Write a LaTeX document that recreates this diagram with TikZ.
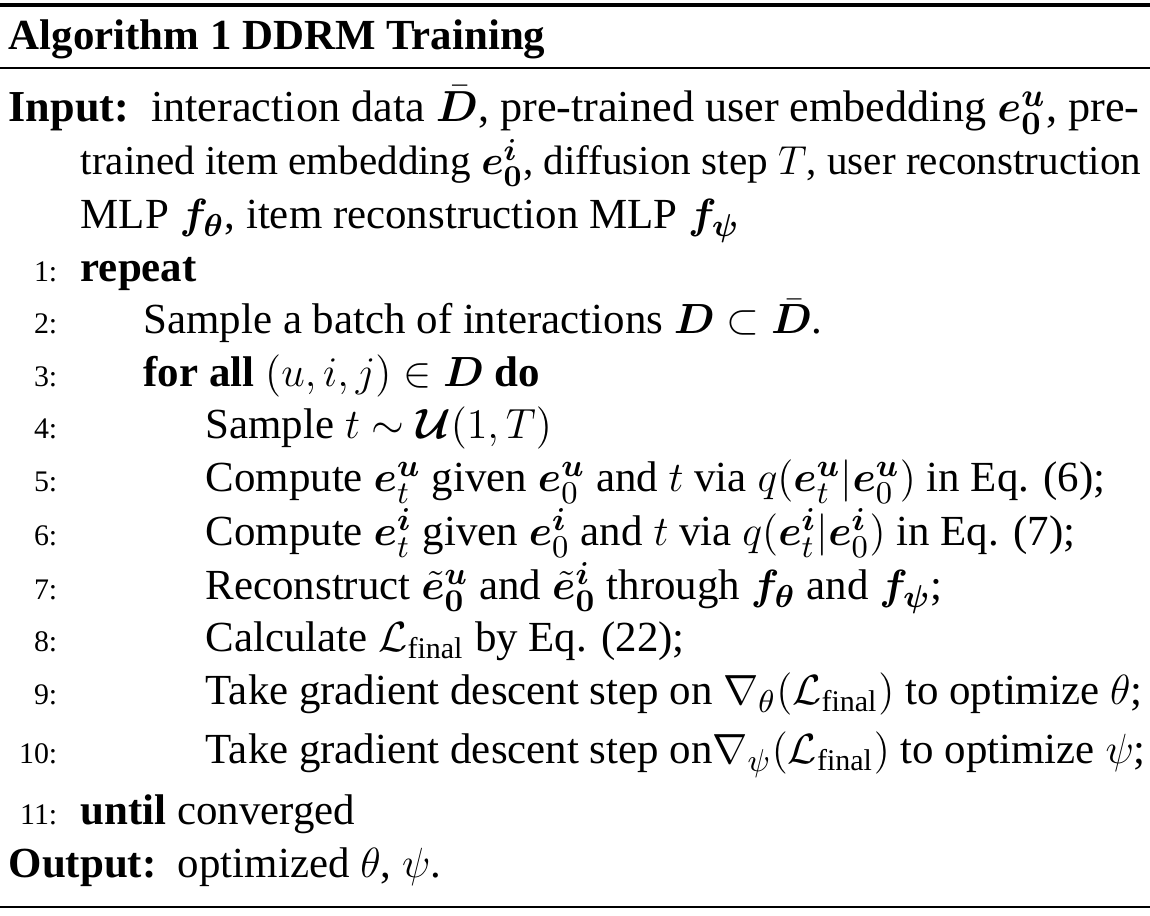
\documentclass[tikz,border=0pt]{standalone}
\usepackage{amsmath,amssymb,bm,graphicx}
\usepackage{fontspec}
\setmainfont{Liberation Serif}
\begin{document}
\begin{tikzpicture}[x=0.01cm,y=-0.01cm,
  txt/.style={anchor=base west,inner sep=0pt,font=\fontsize{12.2}{15}\selectfont},
  num/.style={anchor=base east,inner sep=0pt,font=\fontsize{8.5}{10}\selectfont},
  rule/.style={line width=#1}]
\useasboundingbox (0,0) rectangle (1150,916);
\draw[rule=1.2pt] (0,5) coordinate (t0) -- (1150,5) coordinate (t1);
\draw[rule=0.6pt] (0,68) coordinate (m0) -- (1150,68) coordinate (m1);
\draw[rule=0.6pt] (0,907) coordinate (b0) -- (1150,907) coordinate (b1);
\node[txt] (title) at (8,50) {\textbf{Algorithm 1 DDRM Training}};
\node[txt] (in1) at (8,122) {\resizebox{11.3cm}{!}{\textbf{Input:}\ \ interaction data $\bar{\bm D}$, pre-trained user embedding $\bm e_{\bm 0}^{\bm u}$, pre-}};
\node[txt] (in2) at (80,175) {\resizebox{10.6cm}{!}{trained item embedding $\bm e_{\bm 0}^{\bm i}$, diffusion step $T$, user reconstruction}};
\node[txt] (in3) at (80,229) {MLP $\bm f_{\bm\theta}$, item reconstruction MLP $\bm f_{\bm\psi}$};
\foreach \n/\y in {1/282,2/334,3/387,4/439,5/492,6/546,7/600,8/652,9/705,10/764,11/825}
  \node[num] (n\n) at (58,\y) {\n:};
\node[txt] (l1) at (80,282) {\textbf{repeat}};
\node[txt] (l2) at (143,334) {Sample a batch of interactions $\bm D\subset\bar{\bm D}$.};
\node[txt] (l3) at (143,387) {\textbf{for all} $(u,i,j)\in\bm D$ \textbf{do}};
\node[txt] (l4) at (205,439) {Sample $t\sim\bm{\mathcal U}(1,T)$};
\node[txt] (l5) at (205,492) {Compute $\bm e_t^{\bm u}$ given $\bm e_0^{\bm u}$ and $t$ via $q(\bm e_t^{\bm u}|\bm e_0^{\bm u})$ in Eq. (6);};
\node[txt] (l6) at (205,546) {Compute $\bm e_t^{\bm i}$ given $\bm e_0^{\bm i}$ and $t$ via $q(\bm e_t^{\bm i}|\bm e_0^{\bm i})$ in Eq. (7);};
\node[txt] (l7) at (205,600) {Reconstruct $\tilde{\bm e}_{\bm 0}^{\bm u}$ and $\tilde{\bm e}_{\bm 0}^{\bm i}$ through $\bm f_{\bm\theta}$ and $\bm f_{\bm\psi}$;};
\node[txt] (l8) at (205,652) {Calculate $\mathcal L_{\text{final}}$ by Eq. (22);};
\node[txt] (l9) at (205,705) {Take gradient descent step on $\nabla_\theta(\mathcal L_{\text{final}})$ to optimize $\theta$;};
\node[txt] (l10) at (205,764) {Take gradient descent step on$\nabla_\psi(\mathcal L_{\text{final}})$ to optimize $\psi$;};
\node[txt] (l11) at (80,825) {\textbf{until} converged};
\node[txt] (out) at (8,878) {\textbf{Output:}\ \ optimized $\theta$, $\psi$.};
\end{tikzpicture}
\end{document}
